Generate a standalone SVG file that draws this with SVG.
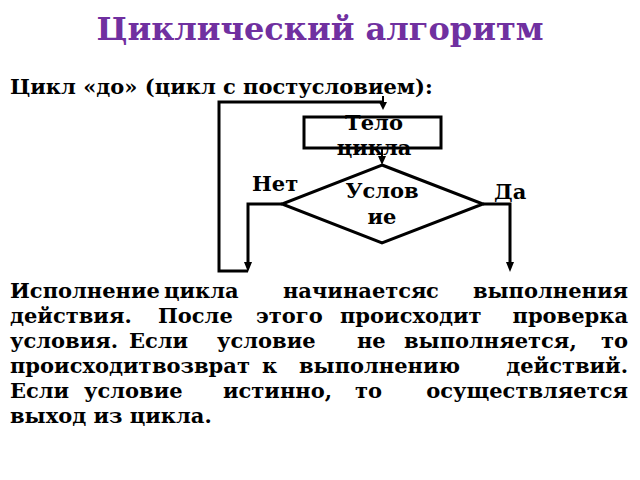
<svg xmlns="http://www.w3.org/2000/svg" width="640" height="480" viewBox="0 0 640 480">
<style>
text{font-family:"DejaVu Serif","Liberation Serif",serif;font-weight:bold;fill:#000}
.b{font-size:21px}
.e{text-anchor:end}
.l{stroke:#000;stroke-width:3;fill:none}
</style>
<rect width="640" height="480" fill="#fff"/>
<text x="320" y="40" text-anchor="middle" style="font-size:32px;fill:#7030A0">Циклический алгоритм</text>
<text x="10" y="94" class="b">Цикл «до» (цикл с постусловием):</text>
<g id="connectors">
<polyline class="l" points="248,271 219,271 219,102 383,102"/>
<path d="M383,96L383,108" stroke="#000" stroke-width="2"/><path d="M379,102L387,102L383,110Z" fill="#000"/>
<path d="M382,148L382,163" stroke="#000" stroke-width="2"/><path d="M378,156L386,156L382,165Z" fill="#000"/>
<polyline class="l" points="282,204 248,204 248,264"/><path d="M244,262L252,262L248,272Z" fill="#000"/>
<polyline class="l" points="483,204 510,204 510,264"/><path d="M506,262L514,262L510,272Z" fill="#000"/>
</g>
<g id="body"><rect x="304" y="117" width="137" height="31" class="l"/>
<text x="374" y="130" text-anchor="middle" class="b">Тело</text>
<text x="374" y="155" text-anchor="middle" class="b">цикла</text></g>
<g id="cond"><polygon points="382,165 483,204 382,243 282,204" class="l" fill="#fff"/>
<text x="382" y="198" text-anchor="middle" class="b">Услов</text>
<text x="382" y="224" text-anchor="middle" class="b">ие</text></g>
<text x="252" y="191" class="b">Нет</text>
<text x="494" y="199" class="b">Да</text>
<g id="para" class="b">
<text y="298" class="b"><tspan x="10">Исполнение</tspan><tspan x="164">цикла</tspan><tspan x="283">начинается</tspan><tspan x="426">с</tspan></text>
<text x="628" y="298" class="b e">выполнения</text>
<text y="323" class="b"><tspan x="10">действия.</tspan><tspan x="158">После</tspan><tspan x="256">этого</tspan><tspan x="340">происходит</tspan></text>
<text x="628" y="323" class="b e">проверка</text>
<text y="348" class="b"><tspan x="10">условия.</tspan><tspan x="129">Если</tspan><tspan x="217">условие</tspan><tspan x="357">не</tspan><tspan x="404">выполняется,</tspan></text>
<text x="628" y="348" class="b e">то</text>
<text y="373" class="b"><tspan x="10">происходит</tspan><tspan x="152">возврат</tspan><tspan x="262">к</tspan><tspan x="299">выполнению</tspan></text>
<text x="628" y="373" class="b e">действий.</text>
<text y="398" class="b"><tspan x="10">Если</tspan><tspan x="84">условие</tspan><tspan x="223">истинно,</tspan><tspan x="355">то</tspan></text>
<text x="628" y="398" class="b e">осуществляется</text>
<text x="10" y="423" class="b">выход из цикла.</text>
</g>
</svg>
